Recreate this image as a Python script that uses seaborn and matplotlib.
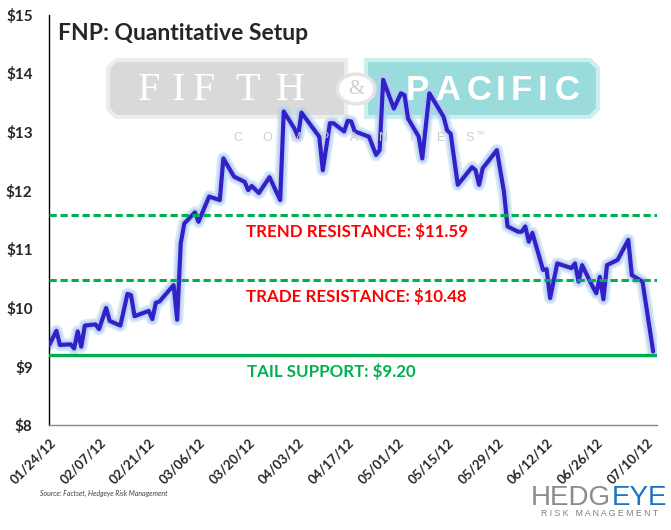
import numpy as np
import pandas as pd
import matplotlib
matplotlib.use("Agg")
import matplotlib.pyplot as plt
import matplotlib.dates as mdates
from matplotlib.patches import Polygon, Circle
import seaborn as sns

# FNP closing prices
dates = [
    "2012-01-24", "2012-01-26", "2012-01-27", "2012-01-30", "2012-01-31",
    "2012-02-01", "2012-02-02", "2012-02-03", "2012-02-06", "2012-02-07",
    "2012-02-09", "2012-02-10", "2012-02-13", "2012-02-15", "2012-02-16",
    "2012-02-17", "2012-02-21", "2012-02-22", "2012-02-23", "2012-02-24",
    "2012-02-28", "2012-02-29", "2012-03-01", "2012-03-02", "2012-03-05",
    "2012-03-06", "2012-03-09", "2012-03-12", "2012-03-13", "2012-03-16",
    "2012-03-19", "2012-03-20", "2012-03-21", "2012-03-23", "2012-03-26",
    "2012-03-29", "2012-03-30", "2012-04-02", "2012-04-03", "2012-04-04",
    "2012-04-09", "2012-04-10", "2012-04-12", "2012-04-13", "2012-04-16",
    "2012-04-17", "2012-04-18", "2012-04-19", "2012-04-23", "2012-04-25",
    "2012-04-26", "2012-04-27", "2012-04-30", "2012-05-02", "2012-05-03",
    "2012-05-04", "2012-05-07", "2012-05-08", "2012-05-10", "2012-05-14",
    "2012-05-15", "2012-05-16", "2012-05-18", "2012-05-22", "2012-05-23",
    "2012-05-24", "2012-05-25", "2012-05-29", "2012-05-31", "2012-06-01",
    "2012-06-04", "2012-06-05", "2012-06-06", "2012-06-07", "2012-06-08",
    "2012-06-11", "2012-06-12", "2012-06-13", "2012-06-15", "2012-06-19",
    "2012-06-20", "2012-06-21", "2012-06-22", "2012-06-25", "2012-06-26",
    "2012-06-27", "2012-06-28", "2012-06-29", "2012-07-02", "2012-07-05",
    "2012-07-06", "2012-07-09", "2012-07-12",
]
prices = [
    9.37, 9.61, 9.37, 9.38, 9.31,
    9.60, 9.34, 9.70, 9.72, 9.64,
    10.00, 9.78, 9.70, 10.24, 10.22,
    9.86, 9.95, 9.81, 10.09, 10.11,
    10.39, 9.80, 11.10, 11.44, 11.63,
    11.47, 11.90, 11.84, 12.55, 12.24,
    12.15, 12.01, 12.08, 11.96, 12.23,
    11.84, 13.35, 13.06, 12.92, 13.33,
    12.92, 12.35, 13.15, 13.15, 13.01,
    13.19, 13.18, 13.01, 12.92, 12.61,
    12.69, 13.89, 13.40, 13.66, 13.63,
    13.23, 12.92, 12.55, 13.66, 13.26,
    13.03, 12.97, 12.10, 12.40, 12.35,
    12.10, 12.38, 12.69, 11.98, 11.39,
    11.30, 11.30, 11.39, 11.13, 11.28,
    10.65, 10.66, 10.17, 10.76, 10.68,
    10.76, 10.45, 10.73, 10.36, 10.25,
    10.53, 10.15, 10.73, 10.82, 11.16,
    10.56, 10.45, 9.26,
]

trend_resistance = 11.59
trade_resistance = 10.48
tail_support = 9.20

tick_dates = pd.date_range("2012-01-24", "2012-07-10", freq="14D")
y_ticks = [8, 9, 10, 11, 12, 13, 14, 15]

df = pd.DataFrame({"date": pd.to_datetime(dates), "price": prices})

sns.set_style("white")
plt.rcParams['font.family'] = ['Lato', 'DejaVu Sans']

W, H = 671, 530
fig = plt.figure(figsize=(W / 100, H / 100), dpi=100)
ax = fig.add_axes([49.3 / W, 1 - 425.3 / H, (656.7 - 49.3) / W, (425.3 - 14.7) / H])


def px(x, y):
    return (x / W, 1 - y / H)


# watermark logo (Fifth & Pacific)
gray_shape = [(108, 68), (116, 60), (346, 60), (346, 117), (116, 117), (108, 109)]
teal_shape = [(366, 60), (590, 60), (598, 68), (598, 109), (590, 117), (366, 117)]
for pts, face, edge in [(gray_shape, "#d9d9d9", "#ececec"), (teal_shape, "#9adcdc", "#cdeeee")]:
    ax.add_patch(Polygon([px(*p) for p in pts], closed=True, facecolor=face,
                         edgecolor=edge, lw=3, transform=fig.transFigure, zorder=0))
ax.add_patch(Circle(px(356, 89), 0.028, facecolor="white", edgecolor="#e4e4e4", lw=2.5,
                    transform=fig.transFigure, zorder=0))
fig.text(*px(356, 90), "&", color="#cfcfcf", fontsize=15, family="Liberation Serif",
         ha="center", va="center", zorder=0)
for letter, xc in zip("FIFTH", [149, 178, 204, 248, 290]):
    fig.text(*px(xc, 91), letter, color="white", fontsize=29, family="Liberation Serif",
             ha="center", va="center")
for letter, xc in zip("PACIFIC", [417, 448, 479, 500, 521, 543, 567]):
    fig.text(*px(xc, 90), letter, color="white", fontsize=25, fontweight="bold",
             family=["Liberation Sans Narrow", "Liberation Sans"], ha="center", va="center")
for letter, xc in zip("COMPANIES", np.linspace(238, 470, 9)):
    fig.text(*px(xc, 138), letter, color="#cdcdcd", fontsize=9, family="Liberation Sans",
             ha="center", va="center")
fig.text(*px(481, 133), "TM", color="#cdcdcd", fontsize=4, family="Liberation Sans",
         ha="center", va="center")

# price line with soft glow
ax.plot(df["date"], df["price"], color="#b5d2f5", lw=9, alpha=0.5,
        solid_joinstyle="round", zorder=2)
ax.plot(df["date"], df["price"], color="#a9c9f2", lw=6, alpha=0.6,
        solid_joinstyle="round", zorder=2)
sns.lineplot(data=df, x="date", y="price", ax=ax, color="#3320c8", lw=3.0, zorder=3)

green = "#00b050"
ax.axhline(trend_resistance, color=green, lw=2.2, ls=(0, (2.4, 1.2)), zorder=4)
ax.axhline(trade_resistance, color=green, lw=2.2, ls=(0, (2.4, 1.2)), zorder=4)
ax.axhline(tail_support, color=green, lw=2.4, zorder=4)

ytr = ax.get_yaxis_transform()
ax.text(0.324, trend_resistance - 0.29, f"TREND RESISTANCE: ${trend_resistance:.2f}",
        color="red", fontsize=12.2, fontweight="bold", va="center", transform=ytr)
ax.text(0.324, trade_resistance - 0.29, f"TRADE RESISTANCE: ${trade_resistance:.2f}",
        color="red", fontsize=12.2, fontweight="bold", va="center", transform=ytr)
ax.text(0.326, tail_support - 0.29, f"TAIL SUPPORT: ${tail_support:.2f}",
        color=green, fontsize=12.2, fontweight="bold", va="center", transform=ytr)

ax.set_xlim(pd.Timestamp("2012-01-24"), pd.Timestamp("2012-07-13"))
ax.set_ylim(8, 15)
ax.set_xticks(tick_dates)
ax.xaxis.set_major_formatter(mdates.DateFormatter("%m/%d/%y"))
ax.set_yticks(y_ticks)
ax.set_yticklabels([f"${v}" for v in y_ticks])
ax.set_xlabel("")
ax.set_ylabel("")
plt.setp(ax.get_xticklabels(), rotation=45, ha="right", rotation_mode="anchor",
         fontweight="bold", fontsize=9.5)
plt.setp(ax.get_yticklabels(), fontweight="bold", fontsize=11)
ax.tick_params(axis="x", direction="out", length=5, width=1, color="#868686", pad=3)
ax.tick_params(axis="y", direction="out", length=6, width=1, color="black", pad=6)

sns.despine(ax=ax)
ax.spines["left"].set_color("black")
ax.spines["left"].set_linewidth(1)
ax.spines["bottom"].set_color("#868686")
ax.spines["bottom"].set_linewidth(1)

fig.text(*px(58, 33), "FNP: Quantitative Setup", fontsize=16.5, fontweight="bold",
         ha="left", va="center")
fig.text(*px(40, 493), "Source: Factset, Hedgeye Risk Management", fontsize=5,
         style="italic", color="#404040", ha="left", va="center")

# Hedgeye logo
fig.text(*px(611, 498), "HEDG", fontsize=20, color="#8c8c8c", ha="right", va="center",
         family=["Liberation Sans Narrow", "Liberation Sans"])
fig.text(*px(612, 498), "EYE", fontsize=20, color="#1f73c4", ha="left", va="center",
         family=["Liberation Sans Narrow", "Liberation Sans"])
fig.text(*px(600, 514), "R I S K   M A N A G E M E N T", fontsize=6.3, color="#7f7f7f",
         ha="center", va="center", family="Liberation Sans")

fig.savefig("out.png", dpi=100)
